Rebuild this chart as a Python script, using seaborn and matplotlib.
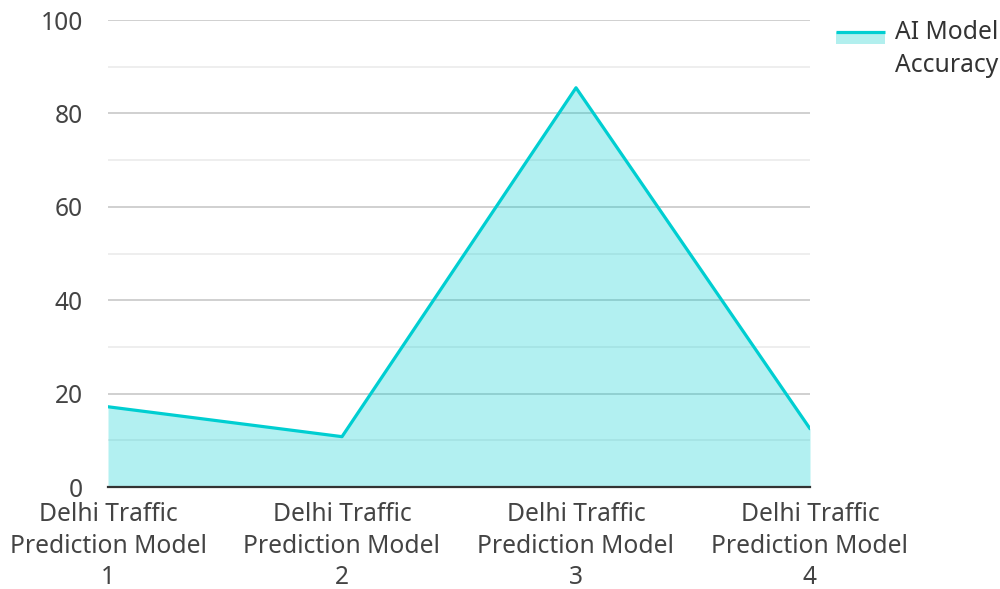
import matplotlib
matplotlib.use("Agg")
import matplotlib.pyplot as plt
import seaborn as sns
import pandas as pd
from matplotlib.patches import Rectangle
from matplotlib.lines import Line2D
from matplotlib.legend_handler import HandlerBase

models = ["Delhi Traffic\nPrediction Model\n1", "Delhi Traffic\nPrediction Model\n2",
          "Delhi Traffic\nPrediction Model\n3", "Delhi Traffic\nPrediction Model\n4"]
accuracy = [17.2, 10.8, 85.5, 12.5]
series_name = "AI Model\nAccuracy"

LINE = "#00CED1"
FILL = "#B2EFEE"
FS = 17.7


class AreaHandler(HandlerBase):
    # line on top, pale patch below it, raised to the first text line
    def create_artists(self, legend, orig_handle, xdescent, ydescent,
                       width, height, fontsize, trans):
        top = height / 2 + 0.74 * fontsize
        rect = Rectangle((-xdescent, top - 0.5 * fontsize), width, 0.5 * fontsize,
                         facecolor=FILL, edgecolor="none", transform=trans)
        line = Line2D([-xdescent, -xdescent + width], [top, top], color=LINE,
                      lw=2.3, solid_capstyle="butt", transform=trans)
        return [rect, line]


sns.set_theme(style="white")
plt.rcParams["font.family"] = ["Noto Sans", "DejaVu Sans"]

df = pd.DataFrame({"pos": range(len(models)), "acc": accuracy})

fig = plt.figure(figsize=(10, 5.89), dpi=100)
ax = fig.add_axes([0.108, 0.173, 0.702, 0.793])

for v in range(10, 101, 10):
    ax.axhline(v, color="#c8c8c8" if v % 20 == 0 else "#ebebeb", lw=1.2, zorder=0)

ax.fill_between(df["pos"], df["acc"], 0, color=LINE, alpha=0.3, lw=0, zorder=1)
sns.lineplot(data=df, x="pos", y="acc", color=LINE, lw=2.3, ax=ax, zorder=3)

ax.set_xlim(0, len(models) - 1)
ax.set_ylim(0, 100)
ax.set_yticks(range(0, 101, 20))
ax.set_xticks(range(len(models)))
ax.set_xticklabels(models, linespacing=1.33)
ax.tick_params(axis="both", labelsize=FS, colors="#444444", length=0)
ax.tick_params(axis="y", pad=18)
ax.tick_params(axis="x", pad=11)
ax.set_xlabel("")
ax.set_ylabel("")

for s in ["top", "right", "left"]:
    ax.spines[s].set_visible(False)
ax.spines["bottom"].set_color("#333333")
ax.spines["bottom"].set_linewidth(1.6)
ax.spines["bottom"].set_zorder(4)

proxy = Line2D([], [], color=LINE)
leg = fig.legend([proxy], [series_name], loc="upper left", bbox_to_anchor=(0.836, 0.966),
                 frameon=False, fontsize=FS, handlelength=2.0, handletextpad=0.4,
                 borderpad=0, borderaxespad=0, labelcolor="#333333",
                 handler_map={Line2D: AreaHandler()})
for t in leg.get_texts():
    t.set_linespacing(1.4)

fig.savefig("out.png", dpi=100)
